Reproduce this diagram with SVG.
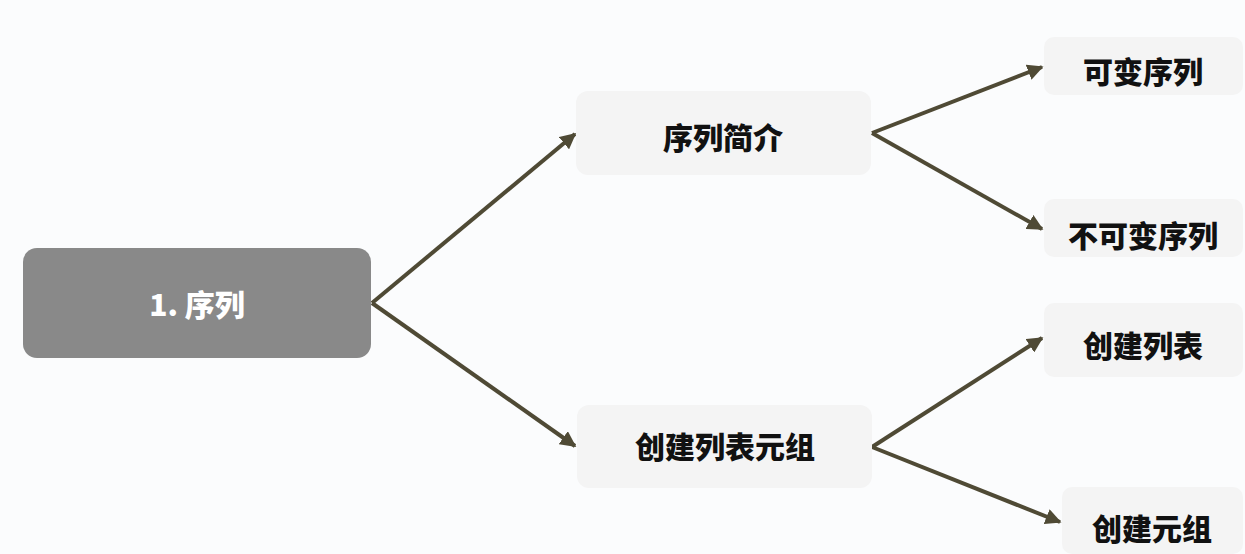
<svg xmlns="http://www.w3.org/2000/svg" width="1245" height="554" viewBox="0 0 1245 554">
<style>
.b{fill:#f4f4f4}
.t{font-family:"Noto Sans CJK SC","Noto Sans CJK JP",sans-serif;font-weight:900;font-size:30px;fill:#111;text-anchor:middle;dominant-baseline:central}
.c{stroke:#4f4a35;stroke-width:4;fill:none;marker-end:url(#a)}
</style>
<defs><marker id="a" viewBox="0 0 10 10" refX="9" refY="5" markerWidth="4" markerHeight="4" orient="auto" markerUnits="strokeWidth"><path d="M0,0L10,5L0,10z" fill="#4f4a35"/></marker></defs>
<rect width="1245" height="554" fill="#fbfcfd"/>
<g id="connectors">
<line class="c" x1="372" y1="303" x2="575" y2="134"/>
<line class="c" x1="372" y1="303" x2="575" y2="446"/>
<line class="c" x1="872" y1="133" x2="1042" y2="67"/>
<line class="c" x1="872" y1="133" x2="1042" y2="229"/>
<line class="c" x1="872" y1="447" x2="1042" y2="338"/>
<line class="c" x1="872" y1="447" x2="1060" y2="522"/>
</g>
<g id="root"><rect x="23" y="248" width="348" height="110" rx="14" fill="#898989"/><text class="t" x="197" y="303" style="fill:#fff">1. 序列</text></g>
<g id="n1"><rect class="b" x="576" y="91" width="295" height="84" rx="12"/><text class="t" x="723" y="136">序列简介</text></g>
<g id="n2"><rect class="b" x="577" y="405" width="295" height="83" rx="12"/><text class="t" x="725" y="445">创建列表元组</text></g>
<g id="n3"><rect class="b" x="1044" y="37" width="199" height="58" rx="10"/><text class="t" x="1143" y="70">可变序列</text></g>
<g id="n4"><rect class="b" x="1044" y="199" width="199" height="58" rx="10"/><text class="t" x="1143" y="234">不可变序列</text></g>
<g id="n5"><rect class="b" x="1044" y="303" width="199" height="74" rx="10"/><text class="t" x="1143" y="344">创建列表</text></g>
<g id="n6"><rect class="b" x="1062" y="487" width="181" height="67" rx="10"/><text class="t" x="1152" y="527">创建元组</text></g>
</svg>
